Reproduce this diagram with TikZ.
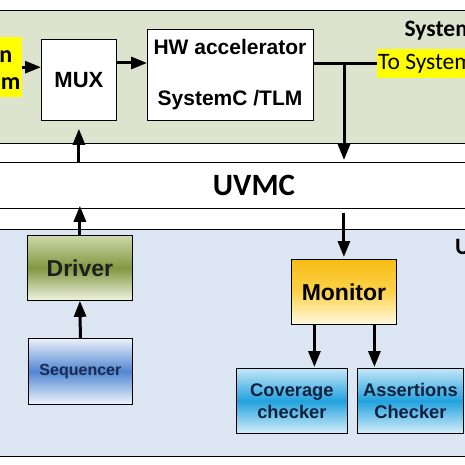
\documentclass[tikz,border=0pt]{standalone}
\usepackage{fontspec}
\setmainfont{Liberation Sans}
\newfontfamily\calfont{Carlito}
\usetikzlibrary{arrows.meta,calc}
\definecolor{sysgreen}{RGB}{221,228,206}
\definecolor{uvmblue}{RGB}{220,230,242}
\definecolor{hiyel}{RGB}{255,255,0}
\definecolor{navy}{RGB}{16,33,63}
\definecolor{seqtxt}{RGB}{27,42,78}
\definecolor{drvtop}{RGB}{205,216,170}
\definecolor{drvmid}{RGB}{128,152,66}
\definecolor{drvbot}{RGB}{240,243,225}
\definecolor{seqtop}{RGB}{235,241,250}
\definecolor{seqmid}{RGB}{80,135,210}
\definecolor{seqbot}{RGB}{240,245,252}
\definecolor{montop}{RGB}{248,188,20}
\definecolor{monmid}{RGB}{252,210,75}
\definecolor{monbot}{RGB}{255,250,225}
\definecolor{chktop}{RGB}{196,230,248}
\definecolor{chkmid}{RGB}{34,162,222}
\definecolor{chkbot}{RGB}{215,238,250}
\begin{document}
\begin{tikzpicture}[x=1pt,y=-1pt,
  box/.style={draw=black,line width=0.8pt,inner sep=0pt,anchor=north west},
  region/.style={draw=black,line width=0.8pt,inner sep=0pt,anchor=north west,minimum width=480pt},
  arr/.style={line width=3pt,-{Triangle[length=16pt,width=12pt]}},
  wire/.style={line width=2.6pt},
  bx/.style={font=\bfseries\fontsize{#1}{#1}\selectfont},
  cal/.style={font=\calfont\bfseries\fontsize{#1}{#1}\selectfont,inner sep=0pt}
]
\useasboundingbox (0,0) rectangle (465,465);
\clip (0,0) rectangle (465,465);
\fill[white] (0,0) rectangle (465,465);
% regions
\node[region,fill=sysgreen,minimum height=132.5pt] (sys) at (-5,10.5) {};
\node[region,fill=white,minimum height=46pt] (uvmc) at (-5,162) {};
\node[region,fill=uvmblue,minimum height=227pt] (uvm) at (-5,229) {};
\node[cal=23.5,anchor=base west] (syslbl) at (404.5,37) {System};
\node[cal=23.5,anchor=base west] (ulbl) at (455,254) {U};
\node[cal=31] (uvmclbl) at (254,185) {UVMC};
% top blocks
\node[fill=hiyel,inner sep=0pt,anchor=north west,minimum width=32pt,minimum height=60pt] (src) at (-10,37) {};
\node[cal=24,anchor=east] (srcn) at (12.5,57) {n};
\node[cal=24,anchor=east] (srcm) at (20.5,84) {m};
\node[box,fill=white,minimum width=75pt,minimum height=81pt,bx=22] (mux) at (41,39) {};
\node[bx=22] (muxlbl) at (mux.center) {MUX};
\node[box,fill=white,minimum width=166pt,minimum height=91pt] (hw) at (147,29) {};
\node[font=\bfseries\fontsize{21}{51}\selectfont,align=center,inner sep=0pt] (hwlbl) at (230,74.5) {HW accelerator\\SystemC /TLM};
\node[fill=hiyel,inner ysep=0pt,inner xsep=1pt,anchor=west,minimum height=29pt,
      font=\calfont\fontsize{23.5}{23.5}\selectfont] (tosys) at (377,63.5) {To System};
% bottom blocks
\node[box,top color=drvtop,bottom color=drvbot,middle color=drvmid,minimum width=105pt,minimum height=65pt] (driver) at (27,235) {};
\node[bx=23,text=black!88] (drvlbl) at (driver.center) {Driver};
\node[box,top color=seqtop,bottom color=seqbot,middle color=seqmid,minimum width=104pt,minimum height=66pt] (seq) at (28,338) {};
\node[bx=16,text=seqtxt] (seqlbl) at (seq.center) {Sequencer};
\node[box,top color=montop,bottom color=monbot,middle color=monmid,minimum width=105pt,minimum height=65pt] (mon) at (291,259) {};
\node[bx=23] (monlbl) at (mon.center) {Monitor};
\node[box,top color=chktop,bottom color=chkbot,middle color=chkmid,minimum width=111pt,minimum height=65pt] (cov) at (236,368) {};
\node[font=\bfseries\fontsize{18.3}{22}\selectfont,align=center,text=navy,inner sep=0pt] (covlbl) at (cov.center) {Coverage\\checker};
\node[box,top color=chktop,bottom color=chkbot,middle color=chkmid,minimum width=106pt,minimum height=65pt] (asr) at (357,368) {};
\node[font=\bfseries\fontsize{18.3}{22}\selectfont,align=center,text=navy,inner sep=0pt] (asrlbl) at (asr.center) {Assertions\\Checker};
% connectors
\coordinate (lv) at (0,63);
\coordinate (jn) at (344,63);
\draw[arr] (src.east) -- (src.east -| mux.west);
\draw[arr] (mux.east |- lv) -- (hw.west |- lv);
\draw[wire] (hw.east |- tosys.west) -- (tosys.west);
\draw[arr,shorten >=2pt] (jn) -- (jn |- uvmc.north);
\draw[arr,shorten >=8pt] (uvmc.north -| mux.south) -- (mux.south);
\draw[arr,shorten >=-3pt] (driver.north) -- (driver.north |- uvmc.south);
\draw[arr] (seq.north) -- (driver.south);
\draw[arr,shorten <=4pt,shorten >=2pt] (uvmc.south -| mon.north) -- (mon.north);
\coordinate (m1) at ($(mon.south)+(-29.5,0)$);
\coordinate (m2) at ($(mon.south)+(30.5,0)$);
\draw[arr,shorten >=1pt] (m1) -- (m1 |- cov.north);
\draw[arr,shorten >=1pt] (m2) -- (m2 |- asr.north);
\end{tikzpicture}
\end{document}
